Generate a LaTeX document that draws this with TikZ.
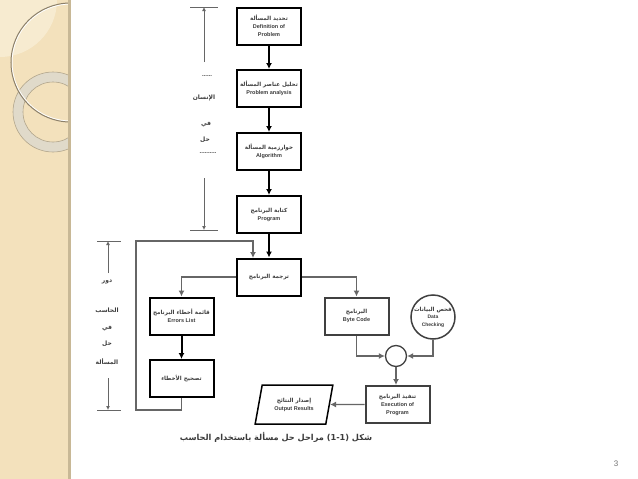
\documentclass[tikz,border=0pt]{standalone}
\usepackage{fontspec}
\setmainfont{Liberation Sans}
\newfontfamily\arabicfont[Script=Arabic]{DejaVu Sans}
\TeXXeTstate=1
\usetikzlibrary{
    shapes.geometric,
    arrows.meta,
    positioning,
    calc
}
\definecolor{bandtan}{RGB}{243, 225, 188}
\definecolor{bandlight}{RGB}{247, 235, 208}
\definecolor{bandedge}{RGB}{200, 184, 150}
\definecolor{ringgray}{RGB}{224, 218, 202}
\definecolor{ringedge}{RGB}{178, 166, 140}
\definecolor{wirebrown}{RGB}{140, 128, 106}
\definecolor{inkgray}{RGB}{60, 60, 60}
\newcommand{\artxt}[1]{{\arabicfont\fontsize{5.6}{8}\selectfont\beginR #1\endR}}
\newcommand{\sidetxt}[1]{{\arabicfont\beginR #1\endR}}
\tikzset{
    procbox/.style={draw=black, line width=2pt, fill=white, minimum width=64pt, minimum height=37pt,
        inner sep=1pt, align=center, font=\fontsize{5.5}{8}\selectfont\bfseries, text=inkgray},
    lowbox/.style={procbox, draw=black!75},
    flow/.style={line width=2pt, -{Latex[length=6pt,width=6pt]}},
    lowflow/.style={line width=1.3pt, draw=black!60, -{Latex[length=6pt,width=6pt]}},
    sidelabel/.style={font=\fontsize{6}{8}\selectfont\bfseries, text=inkgray},
    spanline/.style={draw=black!60, line width=0.9pt}
}

\begin{document}
\begin{tikzpicture}[x=1pt, y=-1pt]
        \useasboundingbox (0,0) rectangle (638,479);

        % Left band
        \fill[white] (0,0) rectangle (638,479);
        \begin{scope}
            \clip (0,0) rectangle (70,479);
            \fill[bandtan] (0,0) rectangle (70,479);
            \fill[bandlight] (0,0) circle[radius=57];
            \draw[ringedge, line width=0.6pt, fill=ringgray, even odd rule]
                (53,112) circle[radius=40] (53,112) circle[radius=30];
            \draw[white, line width=1pt] (70.5,62.5) circle[radius=58.5];
            \draw[wirebrown, line width=1pt] (70.5,62.5) circle[radius=59.5];
        \end{scope}
        \fill[bandedge] (68,0) rectangle (71,479);

        % Upper boxes
        \node[procbox] (definition) at (269,26) {\artxt{تحديد المسألة}\\Definition of\\Problem};
        \node[procbox] (analysis) at (269,88.5) {\artxt{تحليل عناصر المسألة}\\Problem analysis};
        \node[procbox] (algorithm) at (269,151.5) {\artxt{خوارزمية المسألة}\\Algorithm};
        \node[procbox] (program) at (269,214.5) {\artxt{كتابة البرنامج}\\Program};

        % Lower boxes
        \node[procbox] (translate) at (269,277) {\artxt{ترجمة البرنامج}};
        \node[procbox] (errors) at (181.5,316) {\artxt{قائمة أخطاء البرنامج}\\Errors List};
        \node[procbox] (correct) at (181.5,378.5) {\artxt{تصحيح الأخطاء}};
        \node[lowbox] (bytecode) at (356.5,316) {\artxt{البرنامج}\\Byte Code};
        \node[lowbox] (execution) at (397.5,404.5) {\artxt{تنفيذ البرنامج}\\Execution of\\Program};
        \node[draw=black!75, line width=1.5pt, fill=white, circle, minimum size=44pt, inner sep=0pt, align=center,
            font=\fontsize{5}{7.5}\selectfont\bfseries, text=inkgray] (checking) at (433,317) {\artxt{فحص البيانات}\\Data\\Checking};
        \node[draw=black!75, line width=1.3pt, fill=white, circle, minimum size=21pt, inner sep=0pt] (joint) at (396,356) {};
        \node[draw=black, line width=1.5pt, fill=white, trapezium, trapezium stretches=true, trapezium left angle=72, trapezium right angle=108,
            minimum width=78pt, minimum height=39pt, inner sep=0pt, align=center,
            font=\fontsize{5.5}{8}\selectfont\bfseries, text=inkgray] (output) at (294,404.5) {\artxt{إصدار النتائج}\\Output Results};

        % Connectors
        \draw[flow] (definition) -- (analysis);
        \draw[flow] (analysis) -- (algorithm);
        \draw[flow] (algorithm) -- (program);
        \draw[flow] (program) -- (translate);
        \draw[lowflow, line width=1.6pt] (translate.west) -| (errors.north);
        \draw[lowflow, line width=1.6pt] (translate.east) -| (bytecode.north);
        \draw[flow] (errors) -- (correct);
        \coordinate (loopbottom) at (136,410);
        \coordinate (looptop) at (136,241);
        \coordinate (loopin) at (253,258);
        \draw[lowflow] (correct.south) |- (loopbottom) -- (looptop) -| (loopin);
        \draw[lowflow] (bytecode.south) |- (joint.west);
        \draw[lowflow] (checking.south) |- (joint.east);
        \draw[lowflow] (joint.south) -- (execution.north -| joint.south);
        \draw[lowflow] (execution.west) -- (output.east);

        % Span of the first group
        \coordinate (spantopA) at (204,7);
        \coordinate (spanbotA) at (204,230);
        \draw[spanline] (190,7) -- (218,7);
        \draw[spanline] (190,230) -- (218,230);
        \draw[spanline, -{Latex[length=4pt,width=4pt]}] (204,62) -- (spantopA);
        \draw[spanline, -{Latex[length=4pt,width=4pt]}] (204,178) -- (spanbotA);
        \node[sidelabel] (dotsA) at (207,76) {......};
        \node[sidelabel] (humanA) at (204,98) {\sidetxt{الإنسان}};
        \node[sidelabel] (inA) at (206,124) {\sidetxt{في}};
        \node[sidelabel] (solveA) at (205,140) {\sidetxt{حل}};
        \node[sidelabel] (dotsB) at (208,153) {..........};

        % Span of the second group
        \coordinate (spantopB) at (108,241);
        \coordinate (spanbotB) at (108,410);
        \draw[spanline] (97,241) -- (121,241);
        \draw[spanline] (97,410) -- (121,410);
        \draw[spanline, -{Latex[length=4pt,width=4pt]}] (108,273) -- (spantopB);
        \draw[spanline, -{Latex[length=4pt,width=4pt]}] (108,378) -- (spanbotB);
        \node[sidelabel] (roleB) at (107,282) {\sidetxt{دور}};
        \node[sidelabel] (computerB) at (107,311) {\sidetxt{الحاسب}};
        \node[sidelabel] (inB) at (107,328) {\sidetxt{في}};
        \node[sidelabel] (solveB) at (107,344) {\sidetxt{حل}};
        \node[sidelabel] (problemB) at (107,362) {\sidetxt{المسألة}};

        % Caption and page number
        \node[font=\fontsize{8.2}{10}\selectfont\bfseries, text=inkgray] (caption) at (276,437) {\sidetxt{شكل (1-1) مراحل حل مسألة باستخدام الحاسب}};
        \node[font=\fontsize{8}{10}\selectfont, text=black!55] (pagenum) at (616,464) {3};
\end{tikzpicture}
\end{document}
